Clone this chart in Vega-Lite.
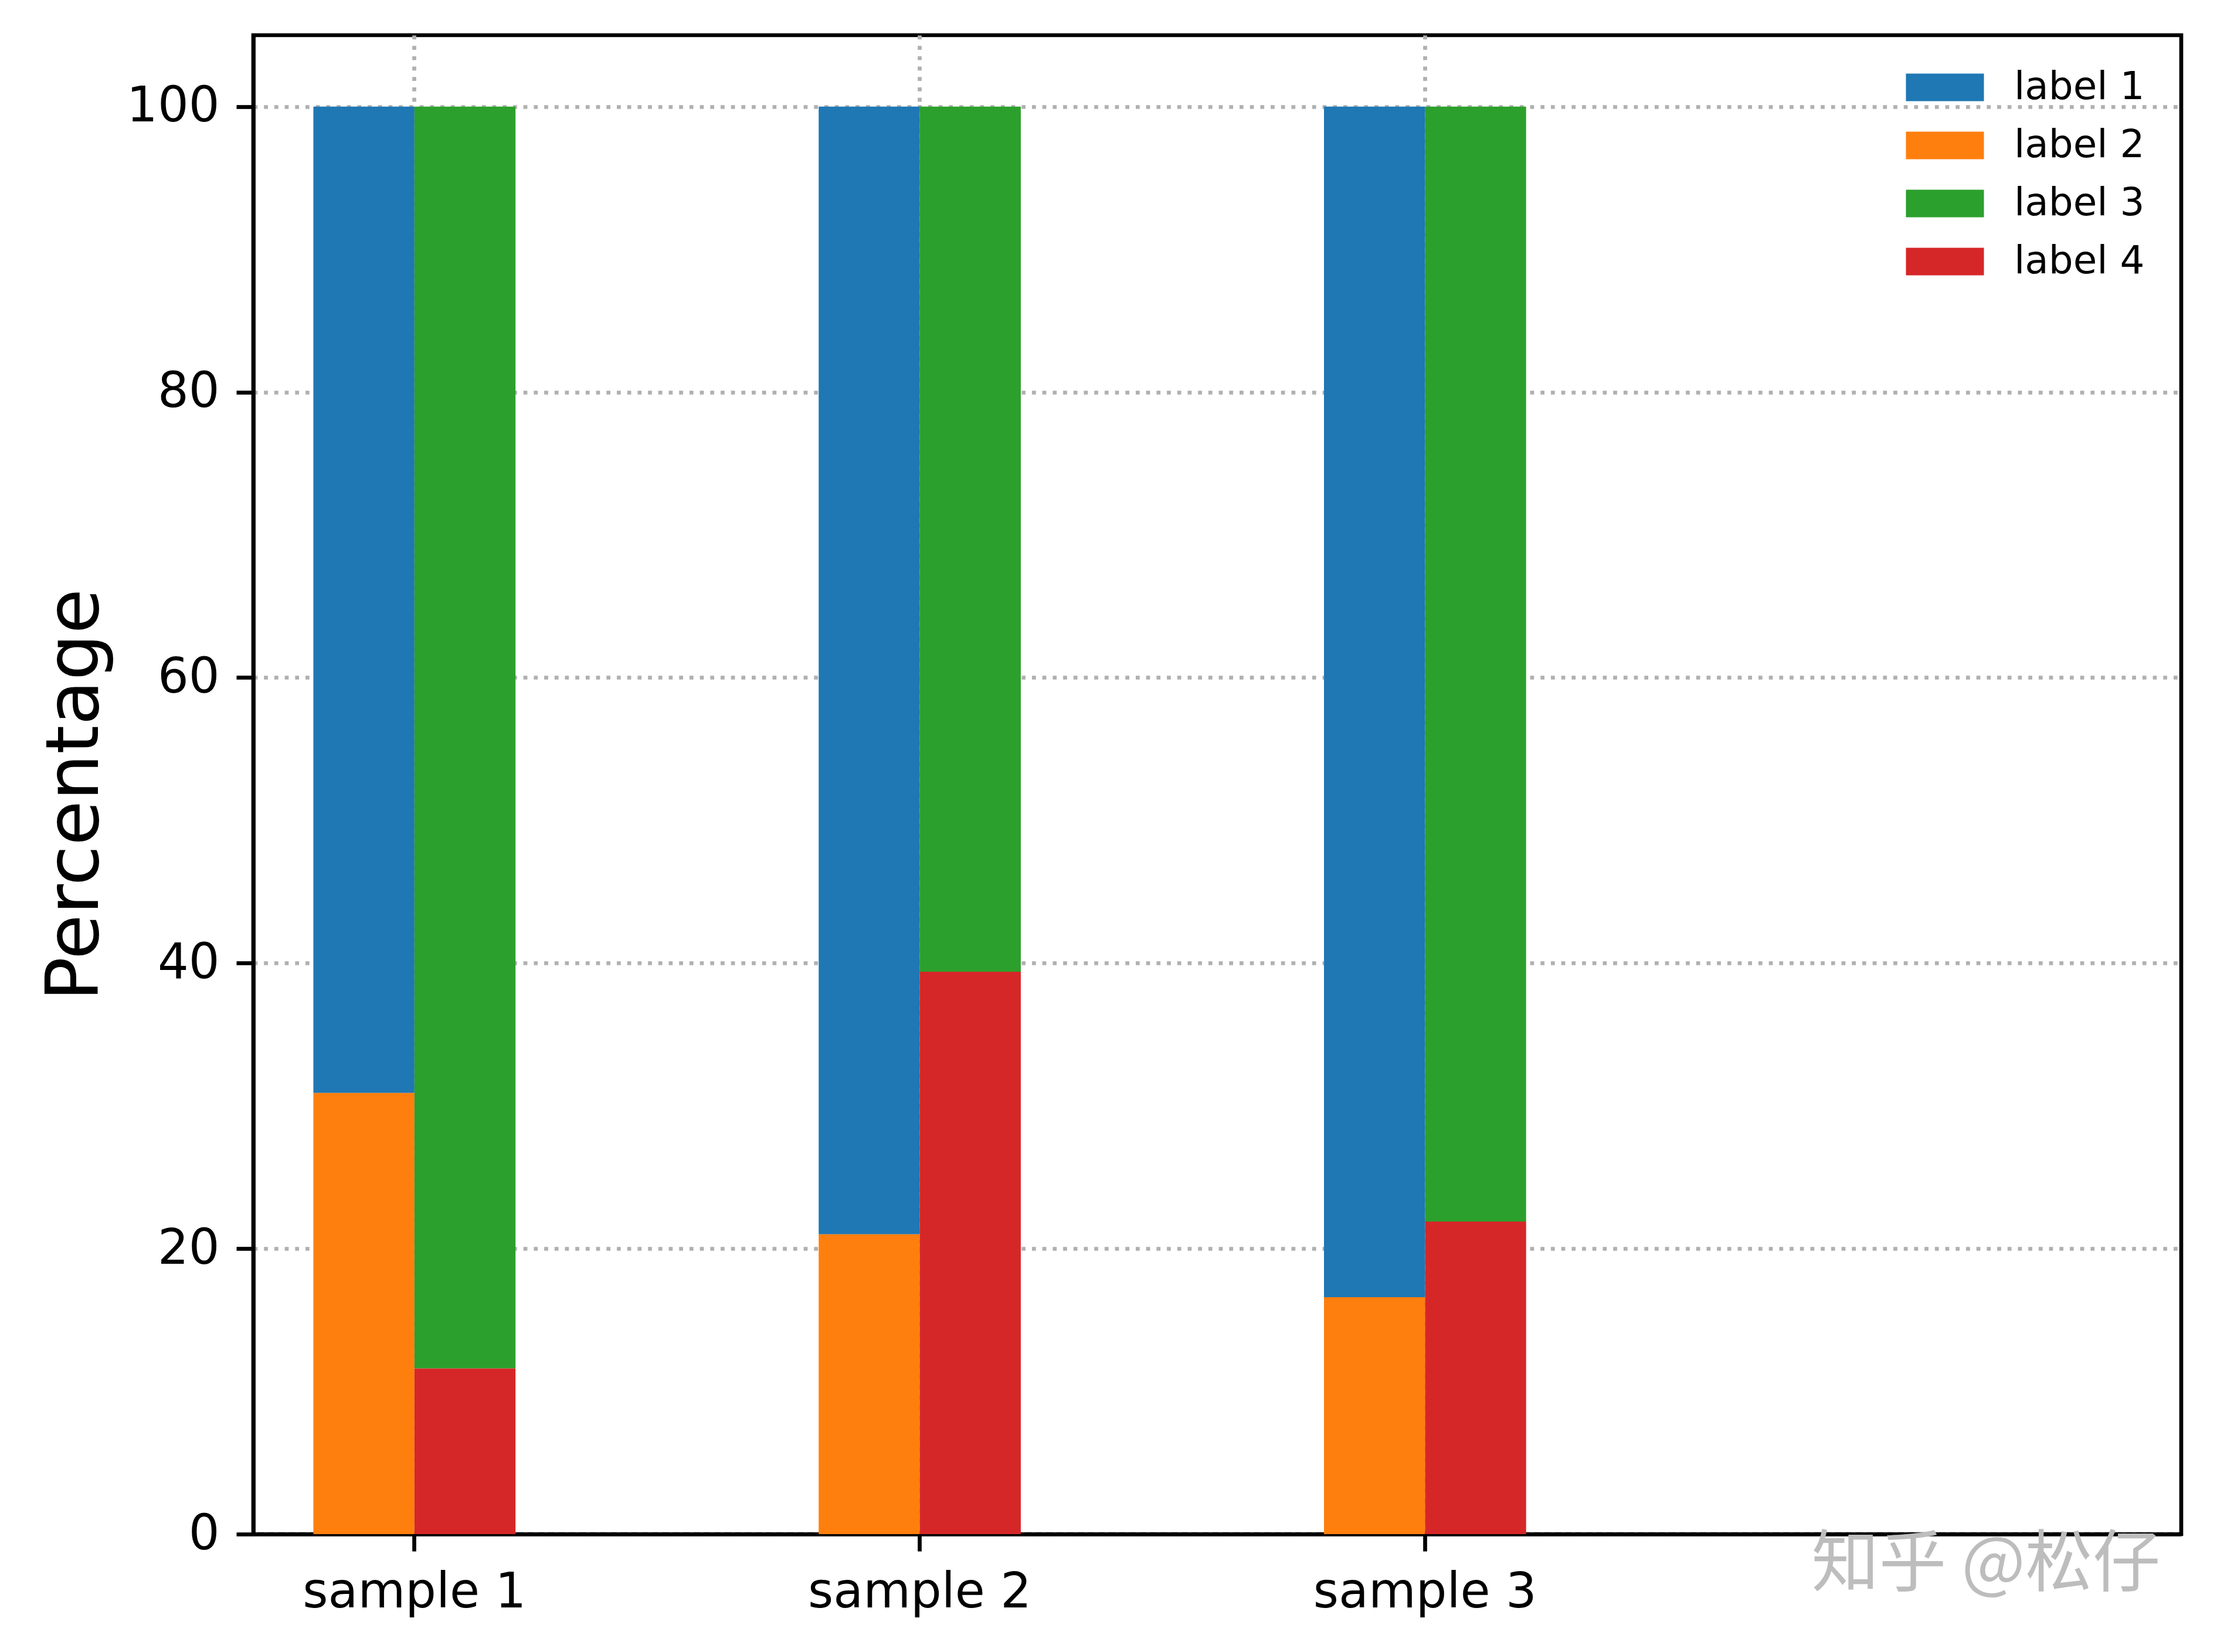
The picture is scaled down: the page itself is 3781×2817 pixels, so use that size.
{
  "$schema": "https://vega.github.io/schema/vega-lite/v6.json",
  "width": 3288,
  "height": 2556,
  "autosize": {"type": "none"},
  "padding": {"left": 432, "top": 60, "right": 61, "bottom": 201},
  "background": "white",
  "title": {
    "text": "知乎 @松仔",
    "orient": "bottom",
    "anchor": "end",
    "frame": "group",
    "font": "Noto Sans CJK SC",
    "fontSize": 115,
    "fontWeight": "normal",
    "color": "#bdbdbd",
    "offset": -144,
    "dx": -36
  },
  "config": {
    "font": "DejaVu Sans",
    "view": {"stroke": "black", "strokeWidth": 6.7},
    "axis": {
      "zindex": 1,
      "domainColor": "black",
      "domainWidth": 6.7,
      "tickColor": "black",
      "tickWidth": 6.7,
      "tickSize": 29,
      "labelPadding": 29,
      "labelFont": "DejaVu Sans",
      "labelFontSize": 83,
      "labelColor": "black",
      "labelLimit": 2000,
      "grid": true,
      "gridColor": "#b0b0b0",
      "gridWidth": 6.7,
      "gridDash": [6.7, 11],
      "titleFont": "DejaVu Sans",
      "titleFontWeight": "normal",
      "titleColor": "black"
    }
  },
  "data": {
    "values": [
      {"sample": "sample 1", "bar": "A", "label": "label 1", "value": 69.1},
      {"sample": "sample 1", "bar": "A", "label": "label 2", "value": 30.9},
      {"sample": "sample 1", "bar": "B", "label": "label 3", "value": 88.4},
      {"sample": "sample 1", "bar": "B", "label": "label 4", "value": 11.6},
      {"sample": "sample 2", "bar": "A", "label": "label 1", "value": 79.0},
      {"sample": "sample 2", "bar": "A", "label": "label 2", "value": 21.0},
      {"sample": "sample 2", "bar": "B", "label": "label 3", "value": 60.6},
      {"sample": "sample 2", "bar": "B", "label": "label 4", "value": 39.4},
      {"sample": "sample 3", "bar": "A", "label": "label 1", "value": 83.4},
      {"sample": "sample 3", "bar": "A", "label": "label 2", "value": 16.6},
      {"sample": "sample 3", "bar": "B", "label": "label 3", "value": 78.1},
      {"sample": "sample 3", "bar": "B", "label": "label 4", "value": 21.9}
    ]
  },
  "mark": {"type": "bar", "strokeWidth": 0},
  "encoding": {
    "x": {
      "field": "sample",
      "type": "nominal",
      "scale": {
        "domain": ["sample 1", "sample 2", "sample 3"],
        "paddingInner": 0.6,
        "paddingOuter": 0.7077,
        "align": 0.084
      },
      "axis": {
        "title": null,
        "labelAngle": 0,
        "bandPosition": 0.5,
        "labelBaseline": "top",
        "labelLimit": 2000
      }
    },
    "xOffset": {
      "field": "bar",
      "type": "nominal",
      "scale": {"domain": ["A", "B"], "paddingInner": 0, "paddingOuter": 0}
    },
    "y": {
      "field": "value",
      "type": "quantitative",
      "stack": "zero",
      "scale": {"domain": [0, 105], "nice": false, "zero": true},
      "axis": {
        "title": "Percentage",
        "titleFontSize": 125,
        "titlePadding": 40,
        "titleY": 1295,
        "values": [0, 20, 40, 60, 80, 100],
        "format": "d"
      }
    },
    "color": {
      "field": "label",
      "type": "nominal",
      "scale": {
        "domain": ["label 1", "label 2", "label 3", "label 4"],
        "range": ["#1f77b4", "#ff7f0e", "#2ca02c", "#d62728"]
      },
      "legend": {
        "title": null,
        "orient": "none",
        "legendX": 2852,
        "legendY": 56,
        "padding": 0,
        "symbolType": "M-2.83,-1L2.83,-1L2.83,1L-2.83,1Z",
        "symbolSize": 2209,
        "symbolStrokeWidth": 0,
        "labelOffset": 85,
        "labelFont": "DejaVu Sans",
        "labelFontSize": 66,
        "labelColor": "black",
        "rowPadding": 33,
        "labelLimit": 1000
      }
    },
    "order": {"field": "label", "sort": "descending"}
  }
}
